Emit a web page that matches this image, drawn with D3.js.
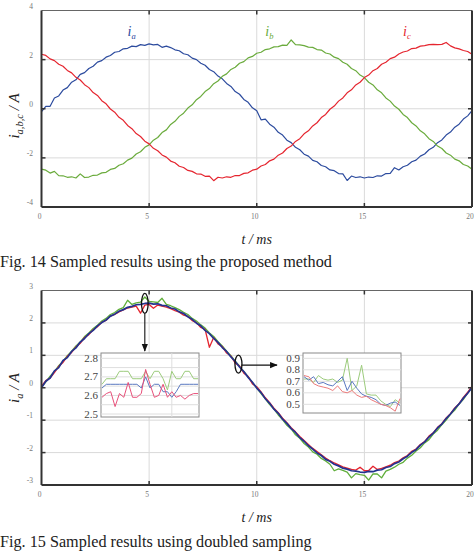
<!DOCTYPE html>
<html><head><meta charset="utf-8">
<script src="https://cdn.jsdelivr.net/npm/d3@7"></script>
<style>
html,body{margin:0;padding:0;background:#fff;}
svg{display:block;}
svg text{font-family:"Liberation Serif","Times New Roman","DejaVu Serif",serif !important;}
</style></head><body>
<svg id="c" width="474" height="551" font-family="Liberation Serif, Times New Roman, DejaVu Serif, serif"></svg>
<script>
// ---------- DATA ----------
const timeDomain = [0, 20];           // ms, samples evenly spaced across
const xTicks = [0, 5, 10, 15, 20];
const yTicksTop = [-4, -2, 0, 2, 4];
const yTicksBot = [-3, -2, -1, 0, 1, 2, 3];

// Fig. 14: three-phase currents (A)
const iaTop = [-0.12,0.10,0.10,0.44,0.52,0.76,0.86,1.08,1.18,1.40,
  1.47,1.64,1.73,1.90,1.96,2.10,2.17,2.30,2.33,2.44,
  2.46,2.55,2.53,2.61,2.58,2.64,2.60,2.62,2.50,2.55,
  2.49,2.40,2.36,2.24,2.20,2.06,2.00,1.85,1.77,1.60,
  1.51,1.33,1.22,1.03,0.91,0.70,0.59,0.38,0.26,0.04,
  -0.08,-0.45,-0.42,-0.63,-0.75,-0.96,-1.07,-1.28,-1.38,-1.57,
  -1.67,-1.85,-1.93,-2.10,-2.16,-2.31,-2.36,-2.49,-2.52,-2.64,
  -2.65,-2.92,-2.74,-2.80,-2.77,-2.82,-2.78,-2.80,-2.73,-2.74,
  -2.64,-2.63,-2.40,-2.49,-2.36,-2.30,-2.16,-2.09,-1.93,-1.84,
  -1.67,-1.57,-1.38,-1.27,-1.07,-0.95,-0.75,-0.63,-0.42,-0.29,
  -0.08];
const ibTop = [-2.46,-2.50,-2.62,-2.55,-2.72,-2.73,-2.79,-2.77,-2.82,-2.65,
  -2.80,-2.78,-2.71,-2.70,-2.61,-2.59,-2.47,-2.43,-2.30,-2.24,
  -2.09,-2.01,-1.84,-1.75,-1.57,-1.47,-1.28,-1.17,-0.97,-0.86,
  -0.64,-0.51,-0.31,-0.18,0.03,0.16,0.37,0.50,0.70,0.82,
  1.02,1.13,1.32,1.42,1.60,1.69,1.85,1.92,2.07,2.13,
  2.26,2.30,2.41,2.44,2.52,2.53,2.59,2.58,2.80,2.61,
  2.60,2.57,2.51,2.50,2.41,2.39,2.27,2.23,2.10,2.04,
  1.89,1.81,1.64,1.55,1.37,1.27,1.08,0.97,0.77,0.65,
  0.44,0.31,0.11,-0.02,-0.23,-0.36,-0.57,-0.70,-0.90,-1.02,
  -1.22,-1.33,-1.52,-1.62,-1.80,-1.89,-2.05,-2.12,-2.27,-2.33,
  -2.46];
const icTop = [2.22,2.17,2.03,1.96,1.81,1.73,1.56,1.46,1.28,1.17,
  0.98,0.86,0.66,0.54,0.33,0.20,-0.01,-0.14,-0.35,-0.47,
  -0.68,-0.81,-1.01,-1.13,-1.32,-1.43,-1.61,-1.71,-1.88,-1.97,
  -2.13,-2.20,-2.34,-2.39,-2.51,-2.55,-2.65,-2.66,-2.75,-2.74,
  -2.93,-2.79,-2.82,-2.77,-2.79,-2.72,-2.72,-2.63,-2.61,-2.50,
  -2.46,-2.33,-2.27,-2.12,-2.05,-1.89,-1.80,-1.62,-1.52,-1.33,
  -1.22,-1.02,-0.90,-0.70,-0.57,-0.36,-0.23,-0.02,0.11,0.31,
  0.44,0.65,0.77,0.97,1.08,1.27,1.37,1.55,1.64,1.81,
  1.89,2.04,2.10,2.23,2.31,2.35,2.45,2.47,2.55,2.57,
  2.61,2.62,2.61,2.62,2.70,2.56,2.48,2.44,2.37,2.33,
  2.22];

// Fig. 15: i_a sampled three ways (A)
const iaGreenBot = [0.02,0.18,0.36,0.50,0.68,0.82,0.99,1.13,1.29,1.41,
  1.58,1.69,1.83,1.93,2.06,2.14,2.26,2.32,2.42,2.47,
  2.70,2.57,2.62,2.64,2.80,2.66,2.65,2.63,2.76,2.57,
  2.53,2.47,2.41,2.33,2.26,2.14,2.06,1.94,1.84,1.69,
  1.58,1.42,1.29,1.13,0.99,0.82,0.67,0.50,0.34,0.16,
  0.00,-0.18,-0.34,-0.52,-0.66,-0.84,-0.98,-1.16,-1.27,-1.45,
  -1.56,-1.72,-1.83,-1.98,-2.05,-2.18,-2.26,-2.36,-2.56,-2.50,
  -2.55,-2.60,-2.78,-2.65,-2.68,-2.70,-2.85,-2.66,-2.66,-2.78,
  -2.57,-2.52,-2.45,-2.36,-2.30,-2.17,-2.08,-1.95,-1.85,-1.70,
  -1.60,-1.43,-1.31,-1.14,-1.00,-0.82,-0.69,-0.50,-0.36,-0.16,
  0.00];
const iaRedBot = [0.05,0.22,0.30,0.47,0.66,0.78,0.97,1.09,1.26,1.37,
  1.55,1.64,1.79,1.88,2.02,2.08,2.21,2.26,2.34,2.40,
  2.46,2.49,2.52,2.30,2.55,2.57,2.45,2.55,2.52,2.49,
  2.44,2.38,2.33,2.24,2.20,2.07,2.01,1.86,1.80,1.25,
  1.55,1.35,1.27,1.07,0.98,0.76,0.67,0.45,0.35,0.12,
  0.03,-0.13,-0.31,-0.46,-0.63,-0.77,-0.94,-1.08,-1.23,-1.36,
  -1.50,-1.63,-1.75,-1.87,-1.97,-2.07,-2.17,-2.25,-2.32,-2.38,
  -2.44,-2.48,-2.52,-2.54,-2.45,-2.56,-2.55,-2.42,-2.52,-2.49,
  -2.44,-2.39,-2.31,-2.26,-2.16,-2.09,-1.96,-1.89,-1.75,-1.66,
  -1.49,-1.39,-1.22,-1.11,-0.93,-0.80,-0.62,-0.49,-0.30,-0.14,
  0.05];
const iaBlueBot = [0.00,0.20,0.30,0.52,0.62,0.84,0.93,1.12,1.23,1.41,
  1.52,1.67,1.77,1.91,2.01,2.09,2.21,2.27,2.36,2.41,
  2.48,2.51,2.56,2.57,2.60,2.61,2.58,2.59,2.54,2.53,
  2.46,2.43,2.34,2.29,2.19,2.11,1.99,1.91,1.77,1.67,
  1.52,1.40,1.24,1.12,0.95,0.81,0.64,0.50,0.32,0.17,
  -0.01,-0.15,-0.34,-0.48,-0.66,-0.79,-0.97,-1.10,-1.26,-1.38,
  -1.54,-1.65,-1.79,-1.89,-2.01,-2.09,-2.21,-2.27,-2.36,-2.41,
  -2.48,-2.51,-2.56,-2.57,-2.60,-2.61,-2.58,-2.59,-2.54,-2.53,
  -2.46,-2.43,-2.34,-2.29,-2.19,-2.11,-1.99,-1.91,-1.77,-1.67,
  -1.52,-1.40,-1.24,-1.12,-0.95,-0.81,-0.64,-0.50,-0.32,-0.17,
  0.01];

// Inset 1 (near peak)
const inset1Ticks = [2.5, 2.6, 2.7, 2.8];
const inset1Grid = [2.5, 2.55, 2.6, 2.65, 2.7, 2.75, 2.8];
const inset1Green = [2.66,2.69,2.69,2.69,2.73,2.73,2.73,2.69,2.69,2.69,2.73,2.69,2.73,2.73,2.69,2.63,2.73,2.69,2.69,2.73,2.73,2.69,2.69];
const inset1Blue  = [2.64,2.66,2.66,2.66,2.66,2.66,2.66,2.66,2.66,2.64,2.70,2.64,2.66,2.66,2.62,2.62,2.59,2.62,2.66,2.66,2.66,2.66,2.66];
const inset1Red   = [2.59,2.61,2.62,2.54,2.61,2.59,2.67,2.59,2.59,2.61,2.74,2.66,2.59,2.60,2.66,2.59,2.62,2.59,2.60,2.58,2.60,2.61,2.61];
// Inset 2 (falling edge)
const inset2Ticks = [0.5, 0.6, 0.7, 0.8, 0.9];
const inset2Green = [0.72,0.72,0.69,0.75,0.72,0.71,0.72,0.69,0.71,0.90,0.62,0.66,0.84,0.59,0.58,0.58,0.53,0.50,0.48,0.54,0.51];
const inset2Blue  = [0.74,0.71,0.74,0.68,0.69,0.67,0.66,0.70,0.74,0.62,0.70,0.64,0.59,0.57,0.56,0.54,0.50,0.49,0.51,0.52,0.49];
const inset2Red   = [0.75,0.74,0.68,0.66,0.65,0.64,0.62,0.66,0.61,0.60,0.62,0.58,0.56,0.57,0.54,0.52,0.50,0.49,0.47,0.44,0.55];

// zoom markers on Fig. 15 (t in ms, value in A)
const zoomMarks = [{t: 4.8, v: 2.6}, {t: 9.15, v: 0.73}];

// ---------- DRAW ----------
const svg = d3.select('#c');
const C = {blue: '#2c4b9e', green: '#6aab3c', red: '#e5252f', frame: '#333', grid: '#dadada', tick: '#777'};

function panel(o) {
  const x = d3.scaleLinear().domain(timeDomain).range([41.5, 472]);
  const y = d3.scaleLinear().domain(o.yDomain).range([o.bottom, o.top]);
  const g = svg.append('g');
  const inner = o.yTicks.filter(v => v !== o.yDomain[0] && v !== o.yDomain[1]);
  const innerX = xTicks.filter(v => v !== timeDomain[0] && v !== timeDomain[1]);
  g.selectAll(null).data(innerX).join('line')
    .attr('x1', d => x(d)).attr('x2', d => x(d)).attr('y1', o.top).attr('y2', o.bottom)
    .attr('stroke', C.grid).attr('stroke-width', 1);
  g.selectAll(null).data(inner).join('line')
    .attr('x1', x(0)).attr('x2', x(20)).attr('y1', d => y(d)).attr('y2', d => y(d))
    .attr('stroke', C.grid).attr('stroke-width', 1);
  const line = d3.line()
    .x((d, i, a) => x(timeDomain[0] + i * (timeDomain[1] - timeDomain[0]) / (a.length - 1)))
    .y(d => y(d));
  o.series.forEach(s => {
    g.append('path').datum(s.values).attr('d', line)
      .attr('fill', 'none').attr('stroke', s.color).attr('stroke-width', s.width || 1.2)
      .attr('stroke-linejoin', 'round');
  });
  // frame
  g.append('line').attr('x1', x(0)).attr('x2', x(20)).attr('y1', o.top).attr('y2', o.top)
    .attr('stroke', '#666').attr('stroke-width', 1);
  g.append('line').attr('x1', x(0)).attr('x2', x(20)).attr('y1', o.bottom).attr('y2', o.bottom)
    .attr('stroke', C.frame).attr('stroke-width', 2);
  g.append('line').attr('x1', x(0)).attr('x2', x(0)).attr('y1', o.top).attr('y2', o.bottom)
    .attr('stroke', C.frame).attr('stroke-width', 2);
  g.append('line').attr('x1', x(20)).attr('x2', x(20)).attr('y1', o.top).attr('y2', o.bottom)
    .attr('stroke', C.frame).attr('stroke-width', 2);
  // inward ticks
  innerX.forEach(v => {
    g.append('line').attr('x1', x(v)).attr('x2', x(v)).attr('y1', o.top).attr('y2', o.top + 4).attr('stroke', C.frame).attr('stroke-width', 1.5);
    g.append('line').attr('x1', x(v)).attr('x2', x(v)).attr('y1', o.bottom).attr('y2', o.bottom - 4).attr('stroke', C.frame).attr('stroke-width', 1.5);
  });
  inner.forEach(v => {
    g.append('line').attr('x1', x(0)).attr('x2', x(0) + 4).attr('y1', y(v)).attr('y2', y(v)).attr('stroke', C.frame).attr('stroke-width', 1.5);
    g.append('line').attr('x1', x(20)).attr('x2', x(20) - 4).attr('y1', y(v)).attr('y2', y(v)).attr('stroke', C.frame).attr('stroke-width', 1.5);
  });
  // tick labels
  g.selectAll(null).data(xTicks).join('text')
    .attr('x', d => x(d) - 2).attr('y', o.bottom + 12)
    .attr('text-anchor', 'middle').attr('font-size', 7.5).attr('fill', C.tick)
    .text(d => d);
  g.selectAll(null).data(o.yTicks).join('text')
    .attr('x', 33).attr('y', d => y(d) - 2)
    .attr('text-anchor', 'end').attr('font-size', 7.5).attr('fill', C.tick)
    .text(d => d);
  // x title
  const xt = g.append('text').attr('x', (x(0) + x(20)) / 2).attr('y', o.bottom + 37)
    .attr('text-anchor', 'middle').attr('font-size', 14).attr('font-style', 'italic').attr('fill', '#222');
  xt.text('t / ms');
  // y title
  const yt = g.append('text').attr('transform', `translate(19,${o.yLabelY}) rotate(-90)`)
    .attr('text-anchor', 'middle').attr('font-size', 15).attr('font-style', 'italic').attr('fill', '#222');
  yt.append('tspan').text('i');
  yt.append('tspan').attr('dy', 3.5).attr('font-size', 10.5).text(o.ySub);
  yt.append('tspan').attr('dy', -3.5).text(' / A');
  // caption
  svg.append('text').attr('x', 0).attr('y', o.captionY).attr('font-size', 16.2).attr('fill', '#222')
    .text(o.caption);
  return {x, y, g};
}

const topPanel = panel({
  yDomain: [-4, 4], yTicks: yTicksTop, top: 10.5, bottom: 207, yLabelY: 116,
  series: [
    {values: iaTop, color: C.blue},
    {values: ibTop, color: C.green},
    {values: icTop, color: C.red}
  ],
  ySub: 'a,b,c', caption: 'Fig. 14 Sampled results using the proposed method', captionY: 267
});
// phase labels
[{t: 4.0, v: 2.95, s: 'a', c: C.blue}, {t: 10.4, v: 2.95, s: 'b', c: C.green}, {t: 16.8, v: 2.95, s: 'c', c: C.red}]
  .forEach(l => {
    const tx = topPanel.g.append('text').attr('x', topPanel.x(l.t)).attr('y', topPanel.y(l.v))
      .attr('font-size', 14).attr('font-style', 'italic').attr('fill', l.c);
    tx.append('tspan').text('i');
    tx.append('tspan').attr('dy', 3).attr('font-size', 8.5).text(l.s);
  });

const botPanel = panel({
  yDomain: [-3, 3], yTicks: yTicksBot, top: 290.5, bottom: 485, yLabelY: 388,
  series: [
    {values: iaGreenBot, color: '#5fae3a', width: 1.3},
    {values: iaRedBot, color: C.red, width: 1.3},
    {values: iaBlueBot, color: '#24338f', width: 1.7}
  ],
  ySub: 'a', caption: 'Fig. 15 Sampled results using doubled sampling', captionY: 547
});

// insets
function inset(o) {
  const g = svg.append('g');
  g.append('rect').attr('x', o.x0).attr('y', o.y0).attr('width', o.x1 - o.x0).attr('height', o.y1 - o.y0)
    .attr('fill', '#fff').attr('stroke', '#8a8a8a').attr('stroke-width', 1);
  const y = d3.scaleLinear().domain(o.yDom).range(o.yRange);
  const n = o.series[0].values.length;
  const x = d3.scaleLinear().domain([0, n - 1]).range([o.x0 + 1, o.x1 - 1]);
  g.selectAll(null).data(o.grid).join('line')
    .attr('x1', o.x0).attr('x2', o.x1).attr('y1', d => y(d)).attr('y2', d => y(d))
    .attr('stroke', '#dedede').attr('stroke-width', 1);
  (o.vgrid || []).forEach(v => g.append('line').attr('x1', x(v)).attr('x2', x(v)).attr('y1', o.y0).attr('y2', o.y1)
    .attr('stroke', '#dedede'));
  const line = d3.line().x((d, i) => x(i)).y(d => y(d));
  o.series.forEach(s => g.append('path').datum(s.values).attr('d', line).attr('fill', 'none')
    .attr('stroke', s.color).attr('stroke-width', 1).attr('stroke-linejoin', 'round'));
  g.selectAll(null).data(o.ticks).join('text')
    .attr('x', o.x0 - 3).attr('y', d => y(d) + 3.5).attr('text-anchor', 'end')
    .attr('font-size', 11).attr('fill', '#444').text(d => d.toFixed(1));
}
inset({x0: 101, x1: 199, y0: 353, y1: 417, yDom: [2.5, 2.8], yRange: [414, 358.3],
  grid: inset1Grid, ticks: inset1Ticks, vgrid: [16],
  series: [{values: inset1Green, color: '#9ccb7c'}, {values: inset1Blue, color: '#5a78c0'}, {values: inset1Red, color: '#e8507a'}]});
inset({x0: 303, x1: 401, y0: 353, y1: 413, yDom: [0.5, 0.9], yRange: [404.3, 358.3],
  grid: inset2Ticks, ticks: inset2Ticks,
  series: [{values: inset2Green, color: '#9ccb7c'}, {values: inset2Blue, color: '#5a78c0'}, {values: inset2Red, color: '#ec7a7a'}]});

// zoom markers and arrows
const defs = svg.append('defs');
defs.append('marker').attr('id', 'ah').attr('viewBox', '0 0 10 10').attr('refX', 9).attr('refY', 5)
  .attr('markerWidth', 7).attr('markerHeight', 7).attr('orient', 'auto')
  .append('path').attr('d', 'M0,1L10,5L0,9z').attr('fill', '#111');
const m1 = zoomMarks[0], m2 = zoomMarks[1];
const mx1 = botPanel.x(m1.t), my1 = botPanel.y(m1.v), mx2 = botPanel.x(m2.t), my2 = botPanel.y(m2.v);
svg.append('ellipse').attr('cx', mx1).attr('cy', my1).attr('rx', 3.3).attr('ry', 10)
  .attr('fill', 'none').attr('stroke', '#111').attr('stroke-width', 1.3);
svg.append('line').attr('x1', mx1).attr('x2', mx1).attr('y1', my1 + 10).attr('y2', 351)
  .attr('stroke', '#111').attr('stroke-width', 1.1).attr('marker-end', 'url(#ah)');
svg.append('ellipse').attr('cx', mx2).attr('cy', my2).attr('rx', 3.5).attr('ry', 9)
  .attr('fill', 'none').attr('stroke', '#111').attr('stroke-width', 1.3);
svg.append('line').attr('x1', mx2 + 3).attr('x2', 277).attr('y1', my2 + 1).attr('y2', my2 + 1)
  .attr('stroke', '#111').attr('stroke-width', 1.1).attr('marker-end', 'url(#ah)');
</script>
</body></html>
